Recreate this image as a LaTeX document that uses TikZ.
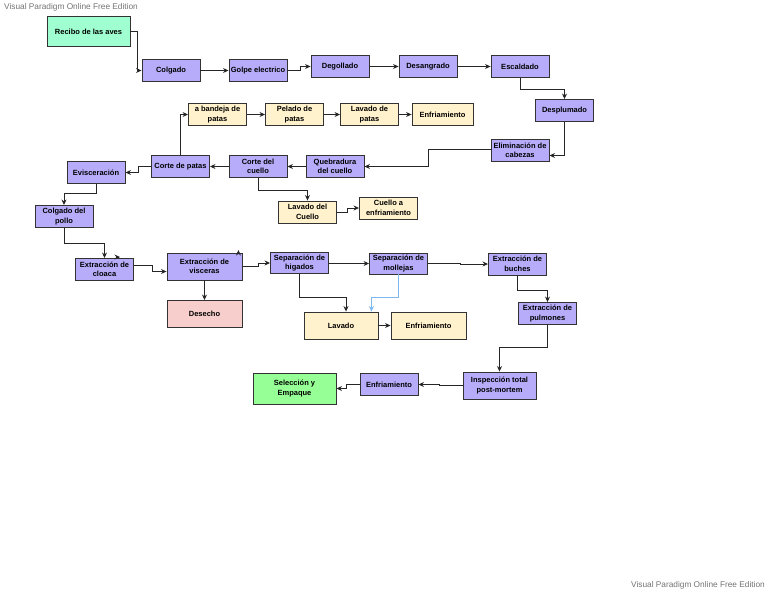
\documentclass[tikz,border=0pt]{standalone}
\usepackage{fontspec}
\setsansfont{Liberation Sans}
\usetikzlibrary{arrows.meta,calc}

\definecolor{procfill}{RGB}{182,172,250}
\definecolor{storefill}{RGB}{255,242,204}
\definecolor{wastefill}{RGB}{248,206,204}
\definecolor{startfill}{RGB}{160,255,208}
\definecolor{endfill}{RGB}{150,255,150}
\definecolor{flowblue}{RGB}{125,183,240}

\begin{document}
\begin{tikzpicture}[x=1pt,y=-1pt,
	box/.style={draw=black!80,line width=0.9pt,align=center,inner sep=0.5pt,
		font=\sffamily\bfseries\fontsize{7.5}{9.5}\selectfont,
		minimum width=58pt,minimum height=22pt},
	bigbox/.style={box,minimum width=75pt,minimum height=27pt},
	widebox/.style={box,minimum width=83pt,minimum height=30pt},
	proc/.style={fill=procfill},
	store/.style={fill=storefill},
	waste/.style={fill=wastefill},
	flow/.style={draw=black!85,line width=0.9pt,-{Stealth[length=5.5pt,width=5pt]}},
	wmark/.style={font=\sffamily\fontsize{8.3}{10}\selectfont,text=black!55}]
	\useasboundingbox (0,0) rectangle (768,594);
	% watermarks
	\node[wmark,anchor=west,inner sep=0pt] (wmtop) at (4,7) {Visual Paradigm Online Free Edition};
	\node[wmark,anchor=east,inner sep=0pt] (wmbot) at (765,585) {Visual Paradigm Online Free Edition};
	% first row
	\node[widebox,fill=startfill] (recibo) at (88.5,31.5) {Recibo de las aves};
	\node[box,proc] (colgado) at (171,70.5) {Colgado};
	\node[box,proc] (golpe) at (258,70.5) {Golpe electrico};
	\node[box,proc] (degollado) at (340,66.5) {Degollado};
	\node[box,proc] (desangrado) at (428,66.5) {Desangrado};
	\node[box,proc] (escaldado) at (520,66.5) {Escaldado};
	\node[box,proc] (desplumado) at (564.5,110.5) {Desplumado};
	\node[box,proc] (elim) at (520,150.5) {Eliminación de\\cabezas};
	% patas
	\node[box,store] (bandeja) at (217.5,114.5) {a bandeja de\\patas};
	\node[box,store] (pelado) at (294.5,114.5) {Pelado de\\patas};
	\node[box,store] (lavpatas) at (369.5,114.5) {Lavado de\\patas};
	\node[box,store,minimum width=61pt] (enfpatas) at (442.5,114.5) {Enfriamiento};
	% second row
	\node[box,proc] (quebradura) at (335,166.5) {Quebradura\\del cuello};
	\node[box,proc] (cortecuello) at (258,166.5) {Corte del\\cuello};
	\node[box,proc] (cortepatas) at (180.5,166.5) {Corte de patas};
	\node[box,proc] (evisc) at (96,172.5) {Evisceración};
	\node[box,store] (lavcuello) at (307.5,212) {Lavado del\\Cuello};
	\node[box,store] (enfcuello) at (388.5,208) {Cuello a\\enfriamiento};
	% third row
	\node[box,proc] (colgpollo) at (64,216.5) {Colgado del\\pollo};
	\node[box,proc] (cloaca) at (104.5,269.5) {Extracción de\\cloaca};
	\node[bigbox,proc] (visceras) at (204.5,266.5) {Extracción de\\visceras};
	\node[bigbox,waste] (desecho) at (204.5,314) {Desecho};
	\node[box,proc,minimum height=21pt] (higados) at (299.5,263) {Separación de\\higados};
	\node[box,proc,minimum height=21pt] (mollejas) at (398.5,263.5) {Separación de\\mollejas};
	\node[box,proc] (buches) at (517.5,264) {Extracción de\\buches};
	\node[box,proc] (pulmones) at (547.5,313.5) {Extracción de\\pulmones};
	\node[bigbox,store,minimum width=74pt] (lavado) at (341,325.5) {Lavado};
	\node[bigbox,store] (enflavado) at (428.5,325.5) {Enfriamiento};
	% last row
	\node[bigbox,proc,minimum width=73pt] (inspeccion) at (499.5,385.5) {Inspección total\\post-mortem};
	\node[box,proc] (enfinal) at (389,384.5) {Enfriamiento};
	\node[widebox,fill=endfill,minimum height=31pt] (seleccion) at (294.5,388.5) {Selección y\\Empaque};
	% connectors
	\draw[flow] (recibo.east) -- ++(7,0) |- (colgado.west);
	\draw[flow] (colgado) -- (golpe);
	\draw[flow] (golpe.east) -- ++(13,0) |- (degollado.west);
	\draw[flow] (degollado) -- (desangrado);
	\draw[flow] (desangrado) -- (escaldado);
	\draw[flow] (escaldado.south) -- ++(0,11) -| (desplumado.north);
	\draw[flow] (desplumado.south) |- ($(elim.east)+(0,5)$);
	\draw[flow] ($(elim.west)+(0,-1)$) -- ++(-62,0) |- (quebradura.east);
	\draw[flow] (quebradura) -- (cortecuello);
	\draw[flow] (cortecuello) -- (cortepatas);
	\draw[flow] (cortepatas.west) -- ++(-13,0) |- (evisc.east);
	\draw[flow] (cortepatas.north) |- (bandeja.west);
	\draw[flow] (bandeja) -- (pelado);
	\draw[flow] (pelado) -- (lavpatas);
	\draw[flow] (lavpatas) -- (enfpatas);
	\draw[flow] (cortecuello.south) -- ++(0,12) -| (lavcuello.north);
	\draw[flow] (lavcuello.east) -- ++(10,0) |- (enfcuello.west);
	\draw[flow] (evisc.south) -- ++(0,9) -| (colgpollo.north);
	\draw[flow] (colgpollo.south) -- ++(0,15) -| (cloaca.north);
	\draw[flow] ($(cloaca.east)+(0,-4)$) -- ++(18,0) |- ($(visceras.west)+(0,5)$);
	\draw[flow] (visceras) -- (desecho);
	\draw[flow] (visceras.east) -- ++(16,0) |- (higados.west);
	\draw[flow] (higados.east) -- ++(22,0) |- (mollejas.west);
	\draw[flow] (mollejas.east) -- ++(32,0) |- (buches.west);
	\draw[flow] (higados.south) -- ++(0,23.5) -| ($(lavado.north)+(5,0)$);
	\draw[flow,draw=flowblue] (mollejas.south) -- ++(0,23) -| ($(lavado.north east)+(-7,0)$);
	\draw[flow] (lavado) -- (enflavado);
	\draw[flow] (buches.south) -- ++(0,15) -| (pulmones.north);
	\draw[flow] (pulmones.south) -- ++(0,22) -| (inspeccion.north);
	\draw[flow] (inspeccion.west) -- ++(-23,0) |- (enfinal.east);
	\draw[flow] (enfinal.west) -- ++(-13,0) |- (seleccion.east);
	% stray tips on the box tops
	\coordinate (tipa) at ($(cloaca.north)+(14,-1)$);
	\coordinate (tipb) at ($(visceras.north east)+(-4,-1)$);
	\draw[flow] (tipa) -- ++(1.5,0);
	\draw[flow] (tipb) -- ++(0,-1.5);
\end{tikzpicture}
\end{document}
